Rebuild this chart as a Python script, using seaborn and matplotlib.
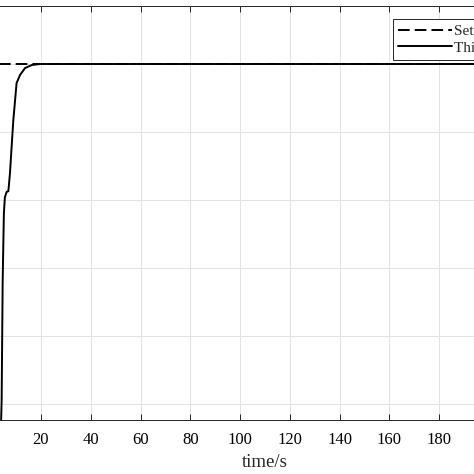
import numpy as np
import pandas as pd
import seaborn as sns
import matplotlib.pyplot as plt

# step response
t_resp = [3.8, 4.2, 4.6, 4.9, 5.1, 5.5, 6.2, 6.9, 7.55, 8.2, 8.9, 9.6, 10.2,
          11.6, 13.6, 16.3, 18.9, 20, 60, 100, 140, 180, 200]
y_resp = [-5, 0.6, 17.8, 24.1, 28.1, 30.4, 31.2, 31.3, 34.0, 37.8, 41.8, 44.7, 47.2,
          48.4, 49.4, 49.85, 49.97, 50, 50, 50, 50, 50, 50]
t_set = [0, 200]
y_set = [50, 50]
labels = ["Set value", "This paper"]
xticks = np.arange(0, 221, 20)
xticklabels = ['', '20', '40', '60', '80', '100', '120', '140', '160', '180', '', '']

sns.set_theme(style="ticks")
plt.rcParams['font.family'] = ['Liberation Serif', 'DejaVu Serif']

fig = plt.figure(figsize=(4.74, 4.74), dpi=100)
ax = fig.add_axes([-8.8 / 474, 54 / 474, 547.6 / 474, 414 / 474])

df_set = pd.DataFrame({'t': t_set, 'y': y_set})
df_resp = pd.DataFrame({'t': t_resp, 'y': y_resp})
sns.lineplot(data=df_set, x='t', y='y', ax=ax, color='black', lw=1.4,
             linestyle=(0, (6, 2.6)), label=labels[0])
sns.lineplot(data=df_resp, x='t', y='y', ax=ax, color='black', lw=1.4,
             label=labels[1])

ax.set_xlim(0, 220)
ax.set_ylim(-2.35, 58.53)
ax.set_xticks(xticks)
ax.set_xticklabels(xticklabels)
ax.set_yticks(np.arange(0, 51, 10))
ax.set_yticklabels([])
ax.grid(True, color='#e2e2e2', lw=0.7)
ax.tick_params(direction='in', length=4, width=0.7, top=True, right=True,
               labelsize=12, pad=9, colors='#262626', labelcolor='black')
for s in ax.spines.values():
    s.set_linewidth(0.7)
    s.set_color('#262626')
ax.set_xlabel('time/s', fontsize=13.5, labelpad=4)
ax.set_ylabel('')

leg = ax.legend(loc='upper left', bbox_to_anchor=(401.8 / 547.6, 401 / 414),
                fancybox=False, framealpha=1, edgecolor='#262626',
                fontsize=11, handlelength=3.5, handletextpad=0.15,
                borderpad=0.35, labelspacing=0.2, borderaxespad=0)
leg.get_frame().set_linewidth(0.7)

fig.savefig('out.png', dpi=100)
